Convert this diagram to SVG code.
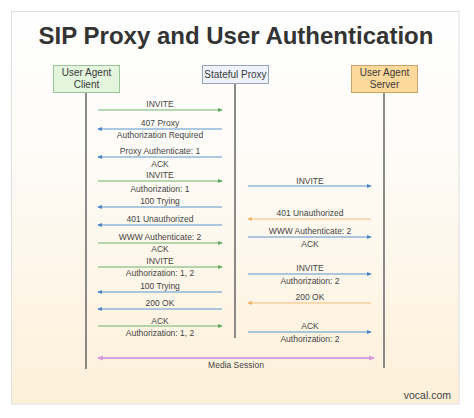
<svg xmlns="http://www.w3.org/2000/svg" width="474" height="418" viewBox="0 0 474 418">
<defs>
<linearGradient id="bg" x1="0" y1="0" x2="0" y2="1">
<stop offset="0" stop-color="#ffffff"/>
<stop offset="0.35" stop-color="#fefcf8"/>
<stop offset="1" stop-color="#fdf0d9"/>
</linearGradient>
<marker id="mg" viewBox="0 0 6 6" refX="5" refY="3" markerWidth="5" markerHeight="5" markerUnits="userSpaceOnUse" orient="auto-start-reverse"><path d="M0,0.5 L6,3 L0,5.5 Z" fill="#5fa85f"/></marker>
<marker id="mb" viewBox="0 0 6 6" refX="5" refY="3" markerWidth="5" markerHeight="5" markerUnits="userSpaceOnUse" orient="auto-start-reverse"><path d="M0,0.5 L6,3 L0,5.5 Z" fill="#4a86c5"/></marker>
<marker id="mo" viewBox="0 0 6 6" refX="5" refY="3" markerWidth="5" markerHeight="5" markerUnits="userSpaceOnUse" orient="auto-start-reverse"><path d="M0,0.5 L6,3 L0,5.5 Z" fill="#f2b36a"/></marker>
<marker id="mp" viewBox="0 0 6 6" refX="5" refY="3" markerWidth="6" markerHeight="6" markerUnits="userSpaceOnUse" orient="auto-start-reverse"><path d="M0,0.5 L6,3 L0,5.5 Z" fill="#d69ae0"/></marker>
</defs>
<style>
text{font-family:"Liberation Sans",Arial,sans-serif;fill:#444}
.t{font-size:24px;font-weight:bold;fill:#333}
.n{font-size:10px;text-anchor:middle;fill:#3a3a3a}
.l{font-size:8.5px;text-anchor:middle}
.life{stroke:#6e6e6e;stroke-width:1.6}
.g{stroke:#6ab46a;stroke-width:1.2;fill:none}
.b{stroke:#5a95d0;stroke-width:1.2;fill:none}
.o{stroke:#f5bd7c;stroke-width:1.2;fill:none}
.p{stroke:#d9a3e3;stroke-width:2;fill:none}
</style>
<rect x="0" y="0" width="474" height="418" fill="#ffffff"/>
<rect x="11.5" y="11.5" width="447.5" height="392.5" fill="url(#bg)" stroke="#dedede" stroke-width="1"/>
<text class="t" x="236" y="44" text-anchor="middle">SIP Proxy and User Authentication</text>

<g id="lifelines">
<line class="life" x1="86" y1="92" x2="86" y2="369"/>
<line class="life" x1="235" y1="83" x2="235" y2="338"/>
<line class="life" x1="384" y1="92" x2="384" y2="368"/>
</g>

<g id="uac">
<rect x="53.5" y="65.5" width="66" height="27" fill="#e3f5dd" stroke="#9cc597" stroke-width="1"/>
<text class="n" x="86.5" y="76">User Agent</text>
<text class="n" x="86.5" y="88">Client</text>
</g>
<g id="proxy">
<rect x="202.5" y="65.5" width="66" height="18" fill="#eef3fb" stroke="#98a5b8" stroke-width="1"/>
<text class="n" x="235.5" y="77.5">Stateful Proxy</text>
</g>
<g id="uas">
<rect x="351.5" y="65.5" width="66" height="27" fill="#fdd99b" stroke="#c9a466" stroke-width="1"/>
<text class="n" x="384.5" y="76">User Agent</text>
<text class="n" x="384.5" y="88">Server</text>
</g>

<g id="connectors">
<line class="g" x1="98" y1="110" x2="222" y2="110" marker-end="url(#mg)"/>
<line class="b" x1="98" y1="129" x2="222" y2="129" marker-start="url(#mb)"/>
<line class="b" x1="98" y1="157" x2="222" y2="157" marker-start="url(#mb)"/>
<line class="g" x1="98" y1="181" x2="222" y2="181" marker-end="url(#mg)"/>
<line class="b" x1="98" y1="207" x2="222" y2="207" marker-start="url(#mb)"/>
<line class="b" x1="98" y1="225" x2="222" y2="225" marker-start="url(#mb)"/>
<line class="g" x1="98" y1="243" x2="222" y2="243" marker-end="url(#mg)"/>
<line class="g" x1="98" y1="267" x2="222" y2="267" marker-end="url(#mg)"/>
<line class="b" x1="98" y1="292" x2="222" y2="292" marker-start="url(#mb)"/>
<line class="b" x1="98" y1="309" x2="222" y2="309" marker-start="url(#mb)"/>
<line class="g" x1="98" y1="326" x2="222" y2="326" marker-end="url(#mg)"/>

<line class="b" x1="248" y1="186" x2="371" y2="186" marker-end="url(#mb)"/>
<line class="o" x1="248" y1="219" x2="371" y2="219" marker-start="url(#mo)"/>
<line class="b" x1="248" y1="237" x2="371" y2="237" marker-end="url(#mb)"/>
<line class="b" x1="248" y1="274" x2="371" y2="274" marker-end="url(#mb)"/>
<line class="o" x1="248" y1="303" x2="371" y2="303" marker-start="url(#mo)"/>
<line class="b" x1="248" y1="332" x2="371" y2="332" marker-end="url(#mb)"/>

<line class="p" x1="98" y1="358" x2="374" y2="358" marker-start="url(#mp)" marker-end="url(#mp)"/>
</g>

<g id="labels">
<text class="l" x="160" y="107">INVITE</text>
<text class="l" x="160" y="126">407 Proxy</text>
<text class="l" x="160" y="138">Authorization Required</text>
<text class="l" x="160" y="154">Proxy Authenticate: 1</text>
<text class="l" x="160" y="167">ACK</text>
<text class="l" x="160" y="178">INVITE</text>
<text class="l" x="160" y="192">Authorization: 1</text>
<text class="l" x="160" y="204">100 Trying</text>
<text class="l" x="160" y="222">401 Unauthorized</text>
<text class="l" x="160" y="240">WWW Authenticate: 2</text>
<text class="l" x="160" y="252">ACK</text>
<text class="l" x="160" y="264">INVITE</text>
<text class="l" x="160" y="276">Authorization: 1, 2</text>
<text class="l" x="160" y="289">100 Trying</text>
<text class="l" x="160" y="306">200 OK</text>
<text class="l" x="160" y="324">ACK</text>
<text class="l" x="160" y="336">Authorization: 1, 2</text>

<text class="l" x="310" y="184">INVITE</text>
<text class="l" x="310" y="216">401 Unauthorized</text>
<text class="l" x="310" y="234">WWW Authenticate: 2</text>
<text class="l" x="310" y="247">ACK</text>
<text class="l" x="310" y="271">INVITE</text>
<text class="l" x="310" y="284">Authorization: 2</text>
<text class="l" x="310" y="300">200 OK</text>
<text class="l" x="310" y="329">ACK</text>
<text class="l" x="310" y="342">Authorization: 2</text>

<text class="l" x="236" y="368">Media Session</text>
<text x="451" y="399" font-size="10.5" text-anchor="end" fill="#444">vocal.com</text>
</g>
</svg>
